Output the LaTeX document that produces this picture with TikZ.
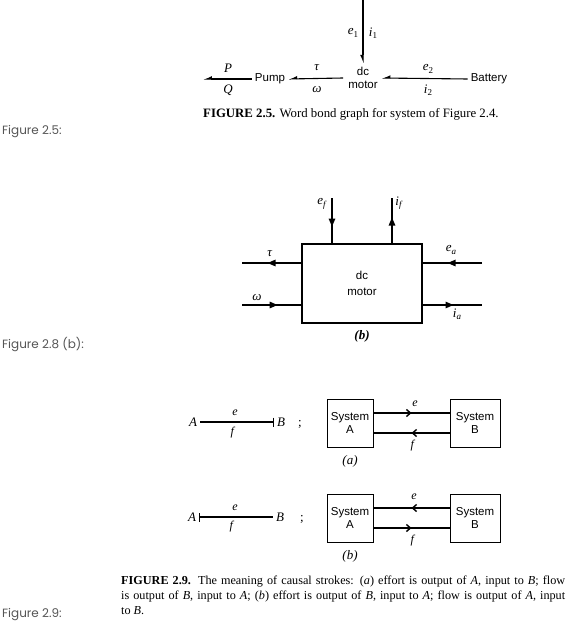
\documentclass[tikz,border=0pt]{standalone}
\usepackage{fontspec}
\setmainfont{Liberation Serif}
\setsansfont{Liberation Sans}
\newfontfamily\sidefont{Poppins}
\usetikzlibrary{arrows.meta,decorations.markings}
\definecolor{sidegray}{RGB}{85,85,85}
\newcommand\vsub[2]{\textit{#1}\kern0.2pt\raisebox{-0.4ex}{\fontsize{9}{10}\selectfont #2}}
\begin{document}
\begin{tikzpicture}[x=1pt,y=-1pt,
  word/.style={font=\fontsize{11.5}{12.5}\sffamily, inner sep=0pt, align=center},
  lab/.style={font=\fontsize{13}{14}\selectfont, inner sep=0pt},
  smalllab/.style={font=\fontsize{12}{13}\selectfont, inner sep=0pt},
  bond/.style={line width=1.1pt, -{Latex[harpoon,swap,length=7pt,width=6pt]}},
  wire/.style={line width=1.3pt, postaction={decorate}},
  midtip/.style={decoration={markings, mark=at position #1 with {\arrow{Triangle[length=8pt,width=6.5pt]}}}},
  sysbox/.style={draw, line width=0.9pt, minimum width=46pt, minimum height=48pt, inner sep=0pt, font=\fontsize{11.5}{13}\sffamily, align=center},
  flowline/.style={line width=1.4pt, postaction={decorate}, decoration={markings, mark=at position 0.5 with {\arrow{Straight Barb[length=4pt,width=7pt]}}}},
  stroke/.style={line width=1.3pt},
  sidelab/.style={font=\fontsize{12}{14}\sidefont, text=sidegray, anchor=west, inner sep=0pt},
  captext/.style={font=\fontsize{12.2}{14.5}\selectfont, anchor=base west, inner sep=0pt}
]
\useasboundingbox (0,0) rectangle (573,634);

% ---------- Figure 2.5 ----------
\node[word] (pump) at (270,79) {Pump};
\node[word, inner sep=3.5pt] (motor) at (363,78) {dc\\motor};
\node[word, inner sep=3pt] (batt) at (489,79) {Battery};
\coordinate (pend) at (203,79);
\coordinate (vtop) at (363,0);
\draw[bond] (vtop) -- (motor.north);
\draw[bond] (batt.west) -- (motor.east);
\draw[bond] ([xshift=-1.5pt]motor.west) -- ([xshift=3pt]pump.east);
\draw[bond] ([xshift=-3pt]pump.west) -- (pend);
\node[lab] (e1) at (353,33) {\vsub{e}{1}};
\node[lab] (i1) at (373,33) {\vsub{i}{1}};
\node[lab] (P) at (228,68) {\textit{P}};
\node[lab] (Q) at (228,90) {\textit{Q}};
\node[lab] (tau1) at (317,68) {\textit{τ}};
\node[lab] (om1) at (317,90) {\textit{ω}};
\node[lab] (e2) at (428,69) {\vsub{e}{2}};
\node[lab] (i2) at (428,90) {\vsub{i}{2}};
\node[captext, font=\fontsize{12.8}{14.5}\selectfont] (cap25) at (203,117) {\textbf{FIGURE 2.5.} Word bond graph for system of Figure 2.4.};

\node[sidelab] (s25) at (2,132) {Figure 2.5:};

% ---------- Figure 2.8 (b) ----------
\node[draw, line width=1.3pt, minimum width=120pt, minimum height=79pt, inner sep=0pt,
      font=\fontsize{11.5}{16}\sffamily, align=center] (dcm) at (362,283.5) {dc\\motor};
\coordinate (eft) at (332,198);
\coordinate (ift) at (392,198);
\coordinate (taul) at (242,263);
\coordinate (oml) at (242,305);
\coordinate (ear) at (482,263);
\coordinate (iar) at (482,305);
\draw[wire, midtip=0.63] (eft) -- (eft |- dcm.north);
\draw[wire, midtip=0.57] (ift |- dcm.north) -- (ift);
\draw[wire, midtip=0.57] (taul -| dcm.west) -- (taul);
\draw[wire, midtip=0.6] (oml) -- (oml -| dcm.west);
\draw[wire, midtip=0.58] (ear) -- (ear -| dcm.east);
\draw[wire, midtip=0.52] (iar -| dcm.east) -- (iar);
\node[lab] (ef) at (322,204) {\vsub{e}{\textit{f}}};
\node[lab] (if) at (399,203) {\vsub{i}{\textit{f}}};
\node[lab] (tau2) at (270,254) {\textit{τ}};
\node[lab] (om2) at (257,298) {\textit{ω}};
\node[lab] (ea) at (451,250) {\vsub{e}{\textit{a}}};
\node[lab] (ia) at (457,314) {\vsub{i}{\textit{a}}};
\node[lab] (b28) at (362,336) {\textbf{\textit{(b)}}};

\node[sidelab] (s28) at (2,345) {Figure 2.8 (b):};

% ---------- Figure 2.9 (a) ----------
\node[lab, inner sep=3pt] (A1) at (193,422) {\textit{A}};
\node[lab, inner sep=3pt] (B1) at (281,422) {\textit{B}};
\draw[stroke, -{Bar[width=9pt,line width=1pt]}] (A1.east) -- (B1.west);
\node[smalllab] (ea1) at (235,413) {\textit{e}};
\node[smalllab] (fa1) at (233,433) {\textit{f}};
\node[lab] (sc1) at (300,424) {;};
\node[sysbox] (SA1) at (350,423) {System\\A};
\node[sysbox, minimum width=50pt] (SB1) at (475,423) {System\\B};
\draw[flowline] ([yshift=10pt]SA1.east) -- ([yshift=10pt]SB1.west);
\draw[flowline] ([yshift=-10pt]SB1.west) -- ([yshift=-10pt]SA1.east);
\node[smalllab] (ea2) at (415,404) {\textit{e}};
\node[smalllab] (fa2) at (413,446) {\textit{f}};
\node[lab] (a29) at (350,461) {\textit{(a)}};

% ---------- Figure 2.9 (b) ----------
\node[lab, inner sep=3pt] (A2) at (192,517) {\textit{A}};
\node[lab, inner sep=3pt] (B2) at (280,517) {\textit{B}};
\draw[stroke, {Bar[width=9pt,line width=1pt]}-] (A2.east) -- (B2.west);
\node[smalllab] (eb1) at (235,508) {\textit{e}};
\node[smalllab] (fb1) at (232,527) {\textit{f}};
\node[lab] (sc2) at (302,519) {;};
\node[sysbox] (SA2) at (350,518) {System\\A};
\node[sysbox, minimum width=50pt] (SB2) at (475,518) {System\\B};
\draw[flowline] ([yshift=10pt]SB2.west) -- ([yshift=10pt]SA2.east);
\draw[flowline] ([yshift=-10pt]SA2.east) -- ([yshift=-10pt]SB2.west);
\node[smalllab] (eb2) at (414,497) {\textit{e}};
\node[smalllab] (fb2) at (413,541) {\textit{f}};
\node[lab] (b29) at (350,556) {\textit{(b)}};

\node[captext] (c1) at (121,584) {\makebox[444pt][s]{\textbf{FIGURE 2.9.} The meaning of causal strokes: (\textit{a}) effort is output of \textit{A}, input to \textit{B}; flow}};
\node[captext] (c2) at (121,599) {\makebox[444pt][s]{is output of \textit{B}, input to \textit{A}; (\textit{b}) effort is output of \textit{B}, input to \textit{A}; flow is output of \textit{A}, input}};
\node[captext] (c3) at (121,614) {to \textit{B}.};

\node[sidelab] (s29) at (2,615) {Figure 2.9:};
\end{tikzpicture}
\end{document}
